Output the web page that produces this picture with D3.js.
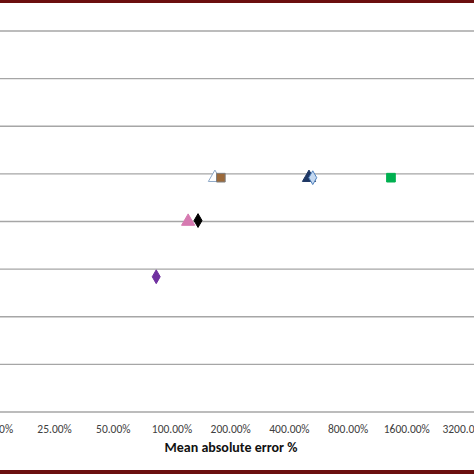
<!DOCTYPE html><html><head><script src="https://cdn.jsdelivr.net/npm/d3@7"></script>
<style>body{margin:0}svg{display:block;font-family:Calibri,Carlito,"Liberation Sans",sans-serif}</style></head><body><svg id="c" width="474" height="474"></svg><script>
const xTicks=[12.5,25,50,100,200,400,800,1600,3200];
const yTicks=[0,1,2,3,4,5,6,7,8];
const names=["A","B","C","D","E","F","G","H"];
const xVals=[83,121,136,166,178,504,527,1327];
const yVals=[2.84,4.0,4.02,4.92,4.92,4.92,4.92,4.92];
const shapes=["diamond","triangle","diamond","triangle","square","triangle","diamond","square"];
const fills=["#7030a0","#d67ab1","#000000","#ffffff","#9c6a3a","#1f3864","#c5d9f1","#00b050"];
const strokes=["#7030a0","#d67ab1","#000000","#8ea9c8","#7f7f7f","#1f3864","#4f81bd","#00b050"];
const svg=d3.select("#c");
const x=d3.scaleLog().base(2).domain([100,200]).range([172,230.7]);
const y=d3.scaleLinear().domain([0,8]).range([412,31]);
svg.append("rect").attr("width",474).attr("height",474).attr("fill","#fff");
svg.append("rect").attr("width",474).attr("height",3).attr("fill","#6b0f0f");
svg.append("rect").attr("y",470).attr("width",474).attr("height",4).attr("fill","#6b0f0f");
svg.selectAll(".g").data(yTicks).join("line").attr("x1",0).attr("x2",474).attr("y1",d=>y(d)).attr("y2",d=>y(d)).attr("stroke","#a6a6a6").attr("stroke-width",1.3);
svg.selectAll(".t").data(xTicks).join("text").attr("x",d=>x(d)).attr("y",433).attr("text-anchor","middle").attr("font-size",11.5).attr("fill","#404040").text(d=>d.toFixed(2)+"%");
svg.append("text").attr("x",231).attr("y",452).attr("text-anchor","middle").attr("font-size",14).attr("font-weight","bold").attr("fill","#111").text("Mean absolute error %");
const sym={diamond:d3.symbolDiamond,triangle:d3.symbolTriangle,square:d3.symbolSquare};
names.forEach((n,i)=>{
 svg.append("path").attr("d",d3.symbol().type(sym[shapes[i]]).size(shapes[i]==="diamond"?55:75)()).attr("transform",`translate(${x(xVals[i])},${y(yVals[i])})`).attr("fill",fills[i]).attr("stroke",strokes[i]).attr("stroke-width",1);
});
</script></body></html>
